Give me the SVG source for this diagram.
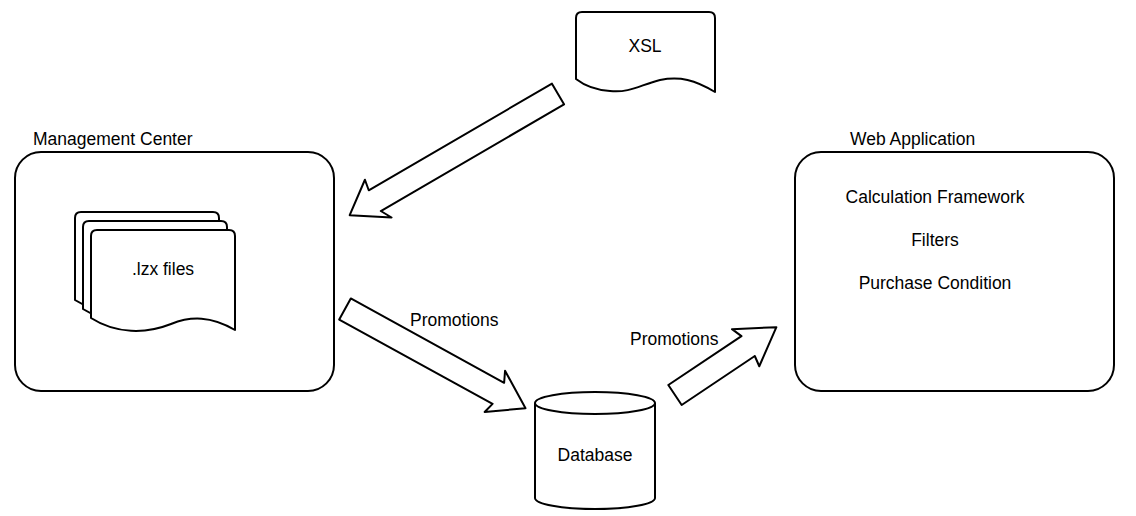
<svg xmlns="http://www.w3.org/2000/svg" width="1136" height="516" viewBox="0 0 1136 516">
<style>
.s{fill:#fff;stroke:#000;stroke-width:2;stroke-linejoin:round}
text{font-family:"Liberation Sans",Arial,sans-serif;font-size:17.5px;fill:#000}
.m{text-anchor:middle}
</style>
<defs>
<path id="doc" d="M0,6 Q0,0 6,0 L138,0 Q144,0 144,6 L144,100 C120,86 100,86 80,94 C55,104 25,104 0,88 Z"/>
</defs>
<rect width="1136" height="516" fill="#fff"/>
<g id="mc">
<rect class="s" x="15" y="152" width="319" height="239" rx="26"/>
<text x="33" y="145">Management Center</text>
<use href="#doc" class="s" x="75" y="212"/>
<use href="#doc" class="s" x="83" y="221"/>
<use href="#doc" class="s" x="91" y="230"/>
<text class="m" x="163" y="275">.lzx files</text>
</g>
<g id="xsl">
<path class="s" d="M576,18 Q576,12 582,12 L709,12 Q715,12 715,18 L715,92 C695,80 680,76 660,80 C640,85 630,93 610,91 C595,90 585,86 576,79 Z"/>
<text class="m" x="645" y="52">XSL</text>
</g>
<g id="web">
<rect class="s" x="795" y="152" width="319" height="239" rx="26"/>
<text x="850" y="145">Web Application</text>
<text class="m" x="935" y="203">Calculation Framework</text>
<text class="m" x="935" y="246">Filters</text>
<text class="m" x="935" y="289">Purchase Condition</text>
</g>
<g id="db">
<path class="s" d="M535,403 L535,498 A60,11 0 0 0 655,498 L655,403"/>
<ellipse class="s" cx="595" cy="403" rx="60" ry="11"/>
<text class="m" x="595" y="461">Database</text>
</g>
<g id="connectors">
<path class="s" transform="translate(558,94) rotate(149.8)" d="M0,-12 L212,-12 L206,-23 L241,0 L210,23 L212,12 L0,12 Z"/>
<path class="s" transform="translate(345,309) rotate(28.8)" d="M0,-12 L175,-12 L170,-23 L206,0 L172,23 L175,12 L0,12 Z"/>
<path class="s" transform="translate(675,395) rotate(-33.8)" d="M0,-12 L88,-12 L84,-23 L122,0 L86,23 L88,12 L0,12 Z"/>
<text x="410" y="326">Promotions</text>
<text x="630" y="345">Promotions</text>
</g>
</svg>
